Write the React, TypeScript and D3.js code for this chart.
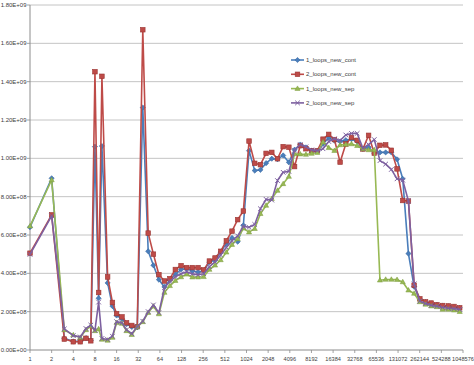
import React from 'react';
import * as d3 from 'd3';

// x values (problem size), log2 axis
const sizes = [1, 2, 3, 4, 5, 6, 7, 8, 9, 10, 12, 14, 16, 19, 22, 26, 31, 37, 44, 52, 62, 74, 88, 105, 126, 151, 181, 217, 260, 312, 374, 448, 537, 644, 772, 926, 1111, 1333, 1599, 1918, 2301, 2761, 3313, 3975, 4770, 5724, 6868, 8241, 9889, 11866, 14239, 17086, 20503, 24603, 29523, 35427, 42512, 51014, 61216, 73459, 88150, 105780, 126936, 152323, 182787, 219344, 263212, 315854, 379024, 454828, 545793, 654951, 785941, 943129];

// values in units of 1e8
const loops1NewCont = [6.41, 8.96, 0.6, 0.45, 0.45, 0.62, 0.5, 10.61, 2.7, 10.64, 3.5, 2.29, 1.8, 1.62, 1.35, 1.2, 1.18, 12.65, 5.15, 4.42, 3.67, 3.29, 3.64, 3.95, 4.2, 4.25, 4.12, 4.07, 4.12, 4.59, 4.68, 5.11, 5.55, 5.85, 5.65, 6.5, 10.4, 9.36, 9.4, 9.75, 9.98, 9.95, 10.15, 9.79, 10.45, 10.72, 10.57, 10.4, 10.36, 10.75, 11.07, 10.92, 10.88, 10.95, 11.0, 10.88, 10.49, 10.57, 10.28, 10.31, 10.31, 10.31, 9.95, 8.93, 5.03, 3.3, 2.65, 2.5, 2.42, 2.36, 2.3, 2.28, 2.24, 2.2];
const loops2NewCont = [5.05, 7.05, 0.57, 0.43, 0.43, 0.61, 0.48, 14.52, 3.0, 14.28, 3.81, 2.48, 1.9, 1.73, 1.42, 1.28, 1.22, 16.71, 6.1, 5.0, 3.93, 3.6, 3.72, 4.2, 4.4, 4.3, 4.3, 4.3, 4.18, 4.64, 4.8, 5.15, 5.7, 6.2, 6.8, 7.25, 10.9, 9.74, 9.67, 10.26, 10.31, 9.98, 10.61, 10.58, 9.57, 10.66, 10.5, 10.4, 10.4, 11.0, 11.25, 10.98, 9.8, 10.75, 11.09, 10.94, 10.49, 11.2, 10.27, 10.68, 10.7, 10.42, 9.45, 7.8, 7.77, 3.38, 2.67, 2.51, 2.45, 2.36, 2.32, 2.3, 2.27, 2.2];
const loops1NewSep = [6.46, 8.87, 1.05, 0.78, 0.65, 1.05, 1.25, 1.0, 1.1, 0.55, 0.5, 0.65, 1.42, 1.38, 1.0, 0.8, 1.2, 1.47, 1.95, 2.28, 1.88, 3.0, 3.35, 3.62, 3.81, 3.95, 3.8, 3.8, 3.82, 4.2, 4.42, 4.7, 5.1, 5.5, 5.8, 6.35, 6.15, 6.33, 7.11, 7.54, 7.89, 8.32, 8.67, 9.05, 10.23, 10.22, 10.2, 10.25, 10.3, 10.85, 10.55, 10.4, 10.7, 10.72, 10.75, 10.66, 10.49, 10.44, 10.44, 3.64, 3.68, 3.68, 3.67, 3.55, 3.12, 2.95, 2.51, 2.38, 2.29, 2.25, 2.12, 2.12, 2.08, 2.0];
const loops2NewSep = [4.99, 7.0, 1.1, 0.75, 0.68, 1.12, 1.3, 1.02, 2.5, 0.6, 0.55, 0.72, 1.48, 1.42, 1.05, 0.85, 1.22, 1.5, 2.0, 2.35, 1.95, 3.25, 3.58, 3.82, 3.98, 4.08, 3.97, 3.93, 3.98, 4.35, 4.6, 4.95, 5.35, 5.7, 5.95, 6.45, 6.4, 6.55, 7.37, 7.86, 7.82, 8.84, 9.27, 9.32, 10.42, 10.72, 10.6, 10.44, 10.4, 10.5, 10.88, 11.02, 10.93, 11.22, 11.3, 11.3, 10.52, 10.72, 10.98, 9.88, 9.7, 9.42, 8.93, 8.86, 7.78, 3.45, 2.55, 2.42, 2.33, 2.28, 2.22, 2.18, 2.16, 2.12];

const seriesNames = ['1_loops_new_cont', '2_loops_new_cont', '1_loops_new_sep', '2_loops_new_sep'];
const seriesColors = ['#4a7ebb', '#be4b48', '#98b954', '#7d60a0'];
const seriesStroke = ['#3a6aa3', '#9a3633', '#7a9a3e', '#604685'];
const markerKinds = ['diamond', 'square', 'triangle', 'x'];

const yTicks = [0, 2, 4, 6, 8, 10, 12, 14, 16, 18];
const yTickLabels = ['0.00E+00', '2.00E+08', '4.00E+08', '6.00E+08', '8.00E+08', '1.00E+09', '1.20E+09', '1.40E+09', '1.60E+09', '1.80E+09'];
const xTicks = [1, 2, 4, 8, 16, 32, 64, 128, 256, 512, 1024, 2048, 4096, 8192, 16384, 32768, 65536, 131072, 262144, 524288, 1048576];

const W = 474, H = 365;
const left = 30, right = 463, top = 5, bottom = 350;

function Marker({ kind, x, y, fill, stroke }: any) {
  if (kind === 'diamond') {
    const r = 2.6;
    return <path d={`M${x},${y - r}L${x + r},${y}L${x},${y + r}L${x - r},${y}Z`} fill={fill} stroke={stroke} strokeWidth={0.6} />;
  }
  if (kind === 'square') {
    const r = 2.3;
    return <rect x={x - r} y={y - r} width={2 * r} height={2 * r} fill={fill} stroke={stroke} strokeWidth={0.6} />;
  }
  if (kind === 'triangle') {
    return <path d={`M${x},${y - 2.7}L${x + 2.6},${y + 1.8}L${x - 2.6},${y + 1.8}Z`} fill={fill} stroke={stroke} strokeWidth={0.5} />;
  }
  const r = 2.3;
  return <path d={`M${x - r},${y - r}L${x + r},${y + r}M${x - r},${y + r}L${x + r},${y - r}`} stroke={fill} strokeWidth={1} fill="none" />;
}

export default function App() {
  const x = d3.scaleLog().base(2).domain([1, 1048576]).range([left, right]);
  const y = d3.scaleLinear().domain([0, 18]).range([bottom, top]);
  const series = [loops1NewCont, loops2NewCont, loops1NewSep, loops2NewSep];
  const line = d3.line<number>().x((_, i) => x(sizes[i])).y(d => y(d));
  const font = 'Liberation Sans, Arial, sans-serif';
  const legendY = [60, 74.3, 88.6, 102.9];

  return (
    <svg width={W} height={H} style={{ position: 'absolute', left: 0, top: 0, background: '#fff' }} fontFamily={font}>
      <rect x={0} y={0} width={W} height={H} fill="#fff" />
      {yTicks.map((t, i) => (
        <g key={t}>
          {t > 0 && <line x1={left} x2={right} y1={y(t)} y2={y(t)} stroke="#c4c4c4" strokeWidth={1} />}
          <line x1={left - 3} x2={left} y1={y(t)} y2={y(t)} stroke="#8c8c8c" strokeWidth={0.8} />
          <text x={left - 3.5} y={y(t)} dy="0.35em" textAnchor="end" fontSize={6} fill="#404040">{yTickLabels[i]}</text>
        </g>
      ))}
      <line x1={left} x2={left} y1={top} y2={bottom} stroke="#8c8c8c" strokeWidth={1} />
      <line x1={left} x2={right} y1={bottom} y2={bottom} stroke="#8c8c8c" strokeWidth={1} />
      {xTicks.map(t => (
        <g key={t}>
          <line x1={x(t)} x2={x(t)} y1={bottom} y2={bottom + 3} stroke="#8c8c8c" strokeWidth={0.8} />
          <text x={x(t)} y={bottom + 10.5} textAnchor="middle" fontSize={5.6} fill="#404040">{String(t)}</text>
        </g>
      ))}
      {series.map((s, si) => (
        <g key={si}>
          <path d={line(s) || ''} fill="none" stroke={seriesColors[si]} strokeWidth={1.6} strokeLinejoin="round" />
          {s.map((v, i) => (
            <Marker key={i} kind={markerKinds[si]} x={x(sizes[i])} y={y(v)} fill={seriesColors[si]} stroke={seriesStroke[si]} />
          ))}
        </g>
      ))}
      {seriesNames.map((n, si) => (
        <g key={n}>
          <line x1={291} x2={304} y1={legendY[si]} y2={legendY[si]} stroke={seriesColors[si]} strokeWidth={1.6} />
          <Marker kind={markerKinds[si]} x={297.5} y={legendY[si]} fill={seriesColors[si]} stroke={seriesStroke[si]} />
          <text x={306} y={legendY[si]} dy="0.35em" fontSize={6} fill="#404040">{n}</text>
        </g>
      ))}
    </svg>
  );
}
